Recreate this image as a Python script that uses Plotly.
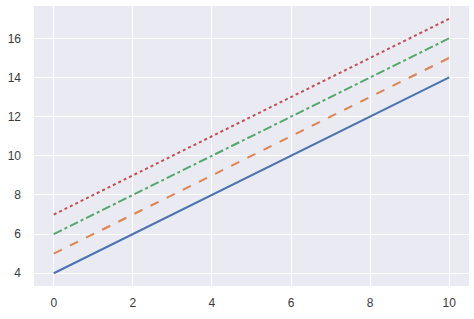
import plotly.graph_objects as go

x = list(range(11))
offsets = [4, 5, 6, 7]
colors = ["#4C72B0", "#DD8452", "#55A868", "#C44E52"]
dashes = ["solid", "dash", "dashdot", "dot"]

fig = go.Figure()
for off, c, d in zip(offsets, colors, dashes):
    fig.add_trace(go.Scatter(x=x, y=[xi + off for xi in x], mode="lines",
                             line=dict(color=c, width=2, dash=d), showlegend=False))

fig.update_layout(
    width=474, height=319,
    margin=dict(l=34, r=5, t=6, b=33),
    paper_bgcolor="white", plot_bgcolor="#EAEAF2",
    font=dict(family="Liberation Sans, Arial", size=12, color="#3a3a3a"),
)
fig.update_xaxes(range=[-0.5, 10.5], tickvals=[0, 2, 4, 6, 8, 10], showgrid=True,
                 gridcolor="white", gridwidth=1, zeroline=False, showline=False, ticks="",
                 ticklabelstandoff=8)
fig.update_yaxes(range=[3.35, 17.65], tickvals=[4, 6, 8, 10, 12, 14, 16], showgrid=True,
                 gridcolor="white", gridwidth=1, zeroline=False, showline=False, ticks="",
                 ticklabelstandoff=12)
fig.write_html("out.html")
